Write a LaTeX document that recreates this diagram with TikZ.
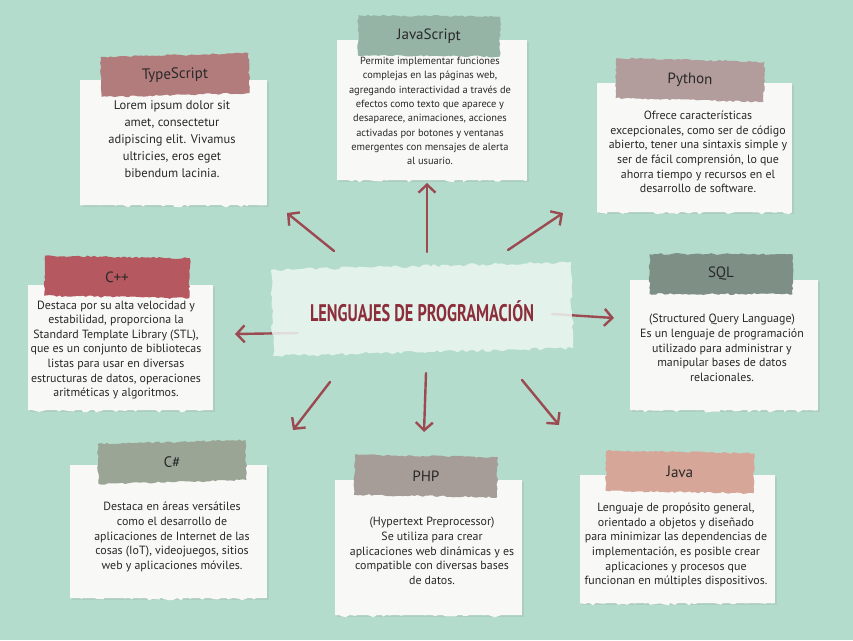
\documentclass[tikz,border=0pt]{standalone}
\usepackage{fontspec}
\setmainfont{PT Sans}
\usepackage{tikz}
\usetikzlibrary{arrows.meta}
\usetikzlibrary{decorations.pathmorphing}
\usetikzlibrary{shadows}

\definecolor{mint}{RGB}{180,220,204}
\definecolor{paper}{RGB}{248,248,246}
\definecolor{arrowc}{RGB}{155,74,82}
\definecolor{titlered}{RGB}{139,46,58}
\definecolor{titletape}{RGB}{237,246,242}
\definecolor{inkc}{RGB}{40,40,40}
\definecolor{tapeTS}{RGB}{178,124,125}
\definecolor{tapeJS}{RGB}{149,180,166}
\definecolor{tapePY}{RGB}{179,156,156}
\definecolor{tapeCPP}{RGB}{181,88,95}
\definecolor{tapeSQL}{RGB}{126,143,133}
\definecolor{tapeCS}{RGB}{154,165,149}
\definecolor{tapePHP}{RGB}{166,157,152}
\definecolor{tapeJAVA}{RGB}{214,166,152}

\tikzset{
	card/.style={rectangle, fill=paper, inner sep=0pt,
		drop shadow={opacity=0.15, shadow xshift=2pt, shadow yshift=-2pt}},
	tape/.style={rectangle, inner sep=0pt, minimum width=148, minimum height=40,
		text=inkc, font=\fontsize{15}{17}\selectfont,
		decorate, decoration={random steps, segment length=3pt, amplitude=0.9pt}},
	body/.style={align=center, text=inkc, inner sep=0pt,
		font=\fontsize{11.9}{14.6}\selectfont}
}

\begin{document}
\begin{tikzpicture}[x=1pt, y=-1pt]
	\pgfmathsetseed{7}
	\useasboundingbox (0,0) rectangle (853,640);
	\fill[mint] (0,0) rectangle (853,640);

	% arrow ends
	\coordinate (s1) at (334,251); \coordinate (e1) at (287,213);
	\coordinate (s2) at (427,252); \coordinate (e2) at (427,183);
	\coordinate (s3) at (508,250); \coordinate (e3) at (563,213);
	\coordinate (s4) at (298,333); \coordinate (e4) at (235,334);
	\coordinate (s5) at (552,314); \coordinate (e5) at (614,318);
	\coordinate (s6) at (330,382); \coordinate (e6) at (293,430);
	\coordinate (s7) at (426,373); \coordinate (e7) at (424,432);
	\coordinate (s8) at (522,380); \coordinate (e8) at (559,425);

	\begin{scope}[every edge/.style={draw=arrowc, line width=2.4pt, line cap=round,
	              -{Straight Barb[length=8pt, width=17pt]}}]
		\foreach \i in {1,2,3,4,5,6,7,8}
		{\path (s\i) edge (e\i);}
	\end{scope}

	% title strip
	\node[rectangle, fill=titletape, fill opacity=0.85, minimum width=300,
	      minimum height=86, rotate=1.5, decorate,
	      decoration={random steps, segment length=4pt, amplitude=1.5pt}] (0) at (422,309) {};
	\node[text=titlered, inner sep=0pt] (ttl) at (422,311)
		{\resizebox{224pt}{\height}{\fontsize{24}{24}\selectfont\bfseries LENGUAJES DE PROGRAMACIÓN}};

	\begin{scope}[every node/.style={card}]
		\node[minimum width=187, minimum height=125] (1) at (173.5,142.5) {};
		\node[minimum width=190, minimum height=140] (2) at (432,110) {};
		\node[minimum width=195, minimum height=129] (3) at (694.5,147.5) {};
		\node[minimum width=185, minimum height=125] (4) at (120.5,347.5) {};
		\node[minimum width=188, minimum height=130] (5) at (724,345) {};
		\node[minimum width=197, minimum height=133] (6) at (168.5,531.5) {};
		\node[minimum width=187, minimum height=135] (7) at (428.5,547.5) {};
		\node[minimum width=195, minimum height=128] (8) at (677.5,539) {};
	\end{scope}

	% torn lower edges
	\foreach \i in {1,2,3,4,5,6,7,8}
	{\fill[paper, decorate, decoration={random steps, segment length=4pt, amplitude=2.2pt}]
		(\i.south west) -- (\i.south east);}

	\begin{scope}[every node/.style={tape}]
		\node[fill=tapeTS, rotate=1.5] (t1) at (175,75) {TypeScript};
		\node[fill=tapeJS, minimum width=142, rotate=-0.5] (t2) at (429,36) {JavaScript};
		\node[fill=tapePY, rotate=-1.5] (t3) at (690,80) {Python};
		\node[fill=tapeCPP, minimum width=145, rotate=-1] (t4) at (117,277) {C++};
		\node[fill=tapeSQL, minimum width=143] (t5) at (721,274) {SQL};
		\node[fill=tapeCS, rotate=1.5] (t6) at (172,462) {C\#};
		\node[fill=tapePHP, minimum width=143, rotate=-1] (t7) at (426,476) {PHP};
		\node[fill=tapeJAVA, rotate=-1] (t8) at (680,472) {Java};
	\end{scope}

	\begin{scope}[every node/.style={body}]
		\node[font=\fontsize{12.5}{17}\selectfont] (b1) at (172,139)
			{Lorem ipsum dolor sit\\amet, consectetur\\adipiscing elit. Vivamus\\ultricies, eros eget\\bibendum lacinia.};
		\node[font=\fontsize{10.4}{14.3}\selectfont] (b2) at (430,111)
			{Permite implementar funciones\\complejas en las páginas web,\\agregando interactividad a través de\\efectos como texto que aparece y\\desaparece, animaciones, acciones\\activadas por botones y ventanas\\emergentes con mensajes de alerta\\al usuario.};
		\node (b3) at (698,152)
			{Ofrece características\\excepcionales, como ser de código\\abierto, tener una sintaxis simple y\\ser de fácil comprensión, lo que\\ahorra tiempo y recursos en el\\desarrollo de software.};
		\node (b4) at (116,350)
			{Destaca por su alta velocidad y\\estabilidad, proporciona la\\Standard Template Library (STL),\\que es un conjunto de bibliotecas\\listas para usar en diversas\\estructuras de datos, operaciones\\aritméticas y algoritmos.};
		\node (b5) at (722,348)
			{(Structured Query Language)\\Es un lenguaje de programación\\utilizado para administrar y\\manipular bases de datos\\relacionales.};
		\node (b6) at (172,537)
			{Destaca en áreas versátiles\\como el desarrollo de\\aplicaciones de Internet de las\\cosas (IoT), videojuegos, sitios\\web y aplicaciones móviles.};
		\node (b7) at (432,551)
			{(Hypertext Preprocessor)\\Se utiliza para crear\\aplicaciones web dinámicas y es\\compatible con diversas bases\\de datos.};
		\node (b8) at (676,545)
			{Lenguaje de propósito general,\\orientado a objetos y diseñado\\para minimizar las dependencias de\\implementación, es posible crear\\aplicaciones y procesos que\\funcionan en múltiples dispositivos.};
	\end{scope}
\end{tikzpicture}
\end{document}
